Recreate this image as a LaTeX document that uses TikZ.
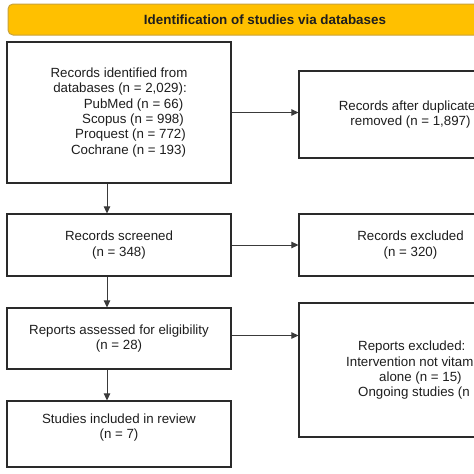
\documentclass[tikz,border=0pt]{standalone}
\usepackage{fontspec}
\setmainfont{Liberation Sans}
\usetikzlibrary{arrows.meta}
\definecolor{hdrfill}{HTML}{FFC000}
\definecolor{hdrline}{HTML}{C9A23A}
\definecolor{boxline}{HTML}{2A2A2A}
\definecolor{txtcol}{HTML}{1E1E1E}
\definecolor{arrcol}{HTML}{3A3A3A}
\begin{document}
\begin{tikzpicture}[x=1pt,y=-1pt,
  every node/.style={font=\fontsize{13.3}{15.3}\selectfont, text=txtcol},
  header/.style={draw=hdrline, line width=1pt, fill=hdrfill, rounded corners=5pt,
    minimum width=514pt, minimum height=31pt, inner sep=0pt,
    font=\fontsize{13.4}{15.3}\selectfont\bfseries},
  stagebox/.style={draw=boxline, line width=1.2pt, inner sep=0pt, align=center,
    minimum width=224pt},
  plaintext/.style={inner sep=0pt, align=left},
  flow/.style={draw=arrcol, line width=0.8pt, -{Triangle[length=7pt,width=6.5pt]}}
]
\useasboundingbox (0,0) rectangle (474,474);
\clip (0,0) rectangle (474,474);
\fill[white] (0,0) rectangle (474,474);

\node[header] (hdr) at (265,19.5) {Identification of studies via databases};

\node[stagebox, minimum height=141pt] (b1) at (119,112.5)
  {Records identified from\\
   \hspace*{2pt}databases (n = 2,029):\\
   \hspace*{29pt}PubMed (n = 66)\\
   \hspace*{28pt}Scopus (n = 998)\\
   \hspace*{23pt}Proquest (n = 772)\\
   \hspace*{19pt}Cochrane (n = 193)};
\node[stagebox, minimum width=223pt, minimum height=87pt] (b2) at (410.5,114.5)
  {Records after duplicates\\removed (n = 1,897)};

\node[stagebox, minimum height=62pt] (b3) at (119,245)
  {Records screened\\(n = 348)};
\node[stagebox, minimum width=223pt, minimum height=62pt] (b4) at (410.5,245)
  {Records excluded\\(n = 320)};

\node[stagebox, minimum height=61pt] (b5) at (119,338.5)
  {Reports assessed for eligibility\\(n = 28)};
\node[stagebox, minimum width=223pt, minimum height=134pt] (b6) at (410.5,370) {};
\node[plaintext, anchor=west] (t6) at (346,370.5)
  {\hspace*{12pt}Reports excluded:\\
   Intervention not vitamin\\
   \hspace*{33pt}alone (n = 15)\\
   \hspace*{12pt}Ongoing studies (n = 6)};

\node[stagebox, minimum height=66pt] (b7) at (119,434) {};
\node[plaintext, align=center] (t7) at (119,427.5)
  {Studies included in review\\(n = 7)};

\draw[flow] (b1.east) -- (b1.east -| b2.west);
\draw[flow] (b3.east) -- (b3.east -| b4.west);
\draw[flow] ([yshift=3pt]b5.east) -- ([yshift=3pt]b5.east -| b6.west);
\draw[flow] ([xshift=-12pt]b1.south) -- ([xshift=-12pt]b3.north);
\draw[flow] ([xshift=-12pt]b3.south) -- ([xshift=-12pt]b5.north);
\draw[flow] ([xshift=-12pt]b5.south) -- ([xshift=-12pt]b7.north);
\end{tikzpicture}
\end{document}
